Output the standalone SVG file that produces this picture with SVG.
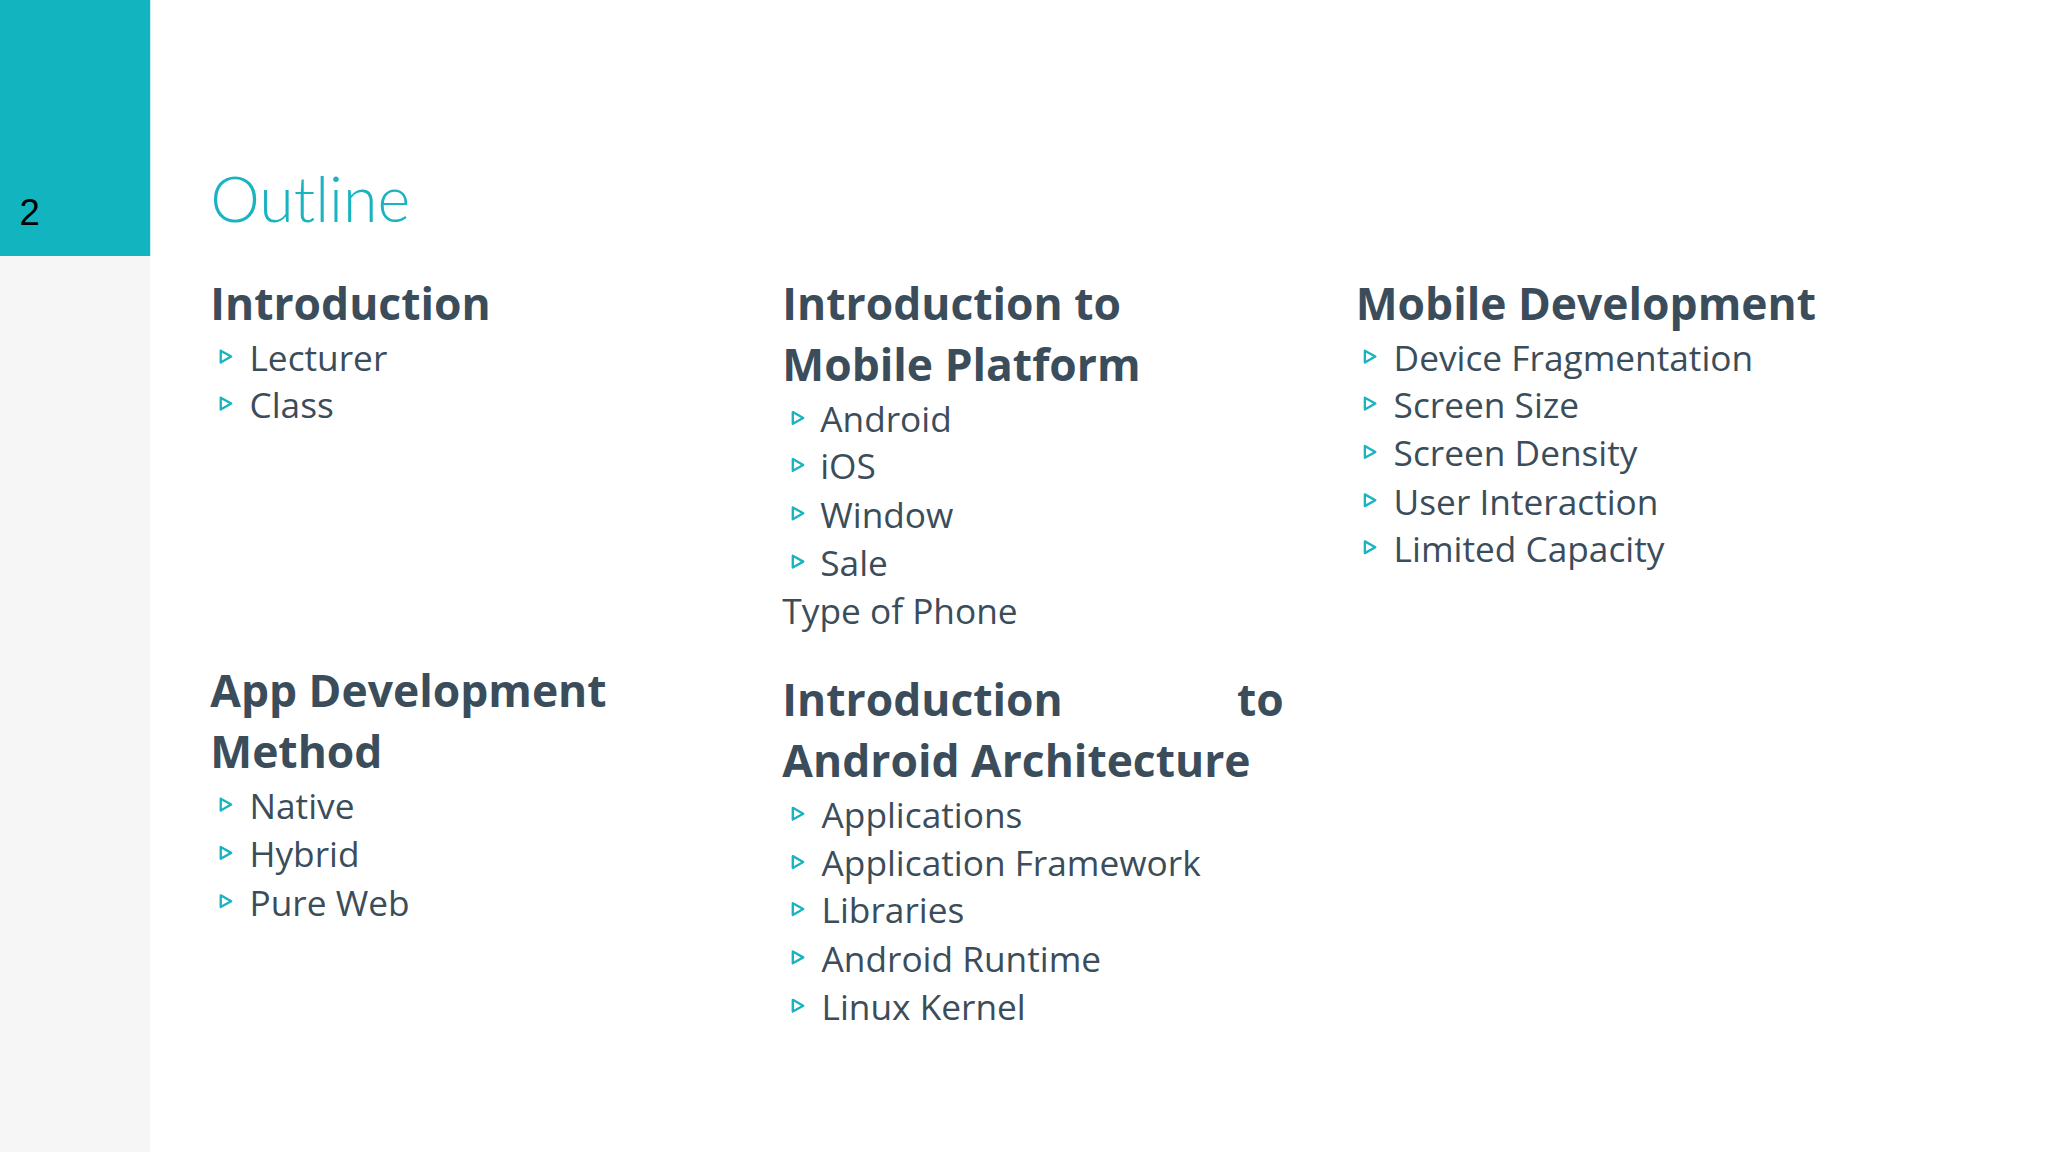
<svg xmlns="http://www.w3.org/2000/svg" width="2048" height="1152" viewBox="0 0 2048 1152">
<style>
.h{font-family:"Open Sans","Noto Sans",sans-serif;font-weight:700;font-size:34px;fill:#3b4d5a}
.i{font-family:"Open Sans","Noto Sans",sans-serif;font-size:27px;fill:#3b4d5a}
</style>
<defs><polygon id="b" points="0,-4.5 8,0 0,4.5" fill="none" stroke="#1ab3c0" stroke-width="1.8" stroke-linejoin="round"/></defs>
<rect width="2048" height="1152" fill="#ffffff"/>
<g transform="scale(1.3061)">
<rect x="0" y="0" width="115" height="882" fill="#f6f6f6"/>
<rect x="0" y="0" width="115" height="196" fill="#12b4c0"/>
<text x="15" y="172" font-family="Liberation Sans,sans-serif" font-size="28" fill="#000">2</text>
<text x="161" y="170" font-family="Lato,'Open Sans',sans-serif" font-weight="300" font-size="48" fill="#1ab3c0">Outline</text>
<g id="col1a">
<text class="h" x="161" y="245">Introduction</text>
<use href="#b" x="169" y="273"/><text class="i" x="191" y="284">Lecturer</text>
<use href="#b" x="169" y="309"/><text class="i" x="191" y="320">Class</text>
</g>
<g id="col2a">
<text class="h" x="599" y="245">Introduction to</text>
<text class="h" x="599" y="292">Mobile Platform</text>
<use href="#b" x="607" y="320"/><text class="i" x="628" y="331">Android</text>
<use href="#b" x="607" y="356"/><text class="i" x="628" y="367">iOS</text>
<use href="#b" x="607" y="393"/><text class="i" x="628" y="404">Window</text>
<use href="#b" x="607" y="430"/><text class="i" x="628" y="441">Sale</text>
<text class="i" x="599" y="478">Type of Phone</text>
</g>
<g id="col3a">
<text class="h" x="1038" y="245">Mobile Development</text>
<use href="#b" x="1045" y="273"/><text class="i" x="1067" y="284">Device Fragmentation</text>
<use href="#b" x="1045" y="309"/><text class="i" x="1067" y="320">Screen Size</text>
<use href="#b" x="1045" y="346"/><text class="i" x="1067" y="357">Screen Density</text>
<use href="#b" x="1045" y="383"/><text class="i" x="1067" y="394">User Interaction</text>
<use href="#b" x="1045" y="419"/><text class="i" x="1067" y="430">Limited Capacity</text>
</g>
<g id="col1b">
<text class="h" x="161" y="541">App Development</text>
<text class="h" x="161" y="588">Method</text>
<use href="#b" x="169" y="616"/><text class="i" x="191" y="627">Native</text>
<use href="#b" x="169" y="653"/><text class="i" x="191" y="664">Hybrid</text>
<use href="#b" x="169" y="690"/><text class="i" x="191" y="701">Pure Web</text>
</g>
<g id="col2b">
<text class="h" x="599" y="548">Introduction</text>
<text class="h" x="947" y="548">to</text>
<text class="h" x="599" y="595">Android Architecture</text>
<use href="#b" x="607" y="623"/><text class="i" x="629" y="634">Applications</text>
<use href="#b" x="607" y="660"/><text class="i" x="629" y="671">Application Framework</text>
<use href="#b" x="607" y="696"/><text class="i" x="629" y="707">Libraries</text>
<use href="#b" x="607" y="733"/><text class="i" x="629" y="744">Android Runtime</text>
<use href="#b" x="607" y="770"/><text class="i" x="629" y="781">Linux Kernel</text>
</g>
</g>
</svg>
